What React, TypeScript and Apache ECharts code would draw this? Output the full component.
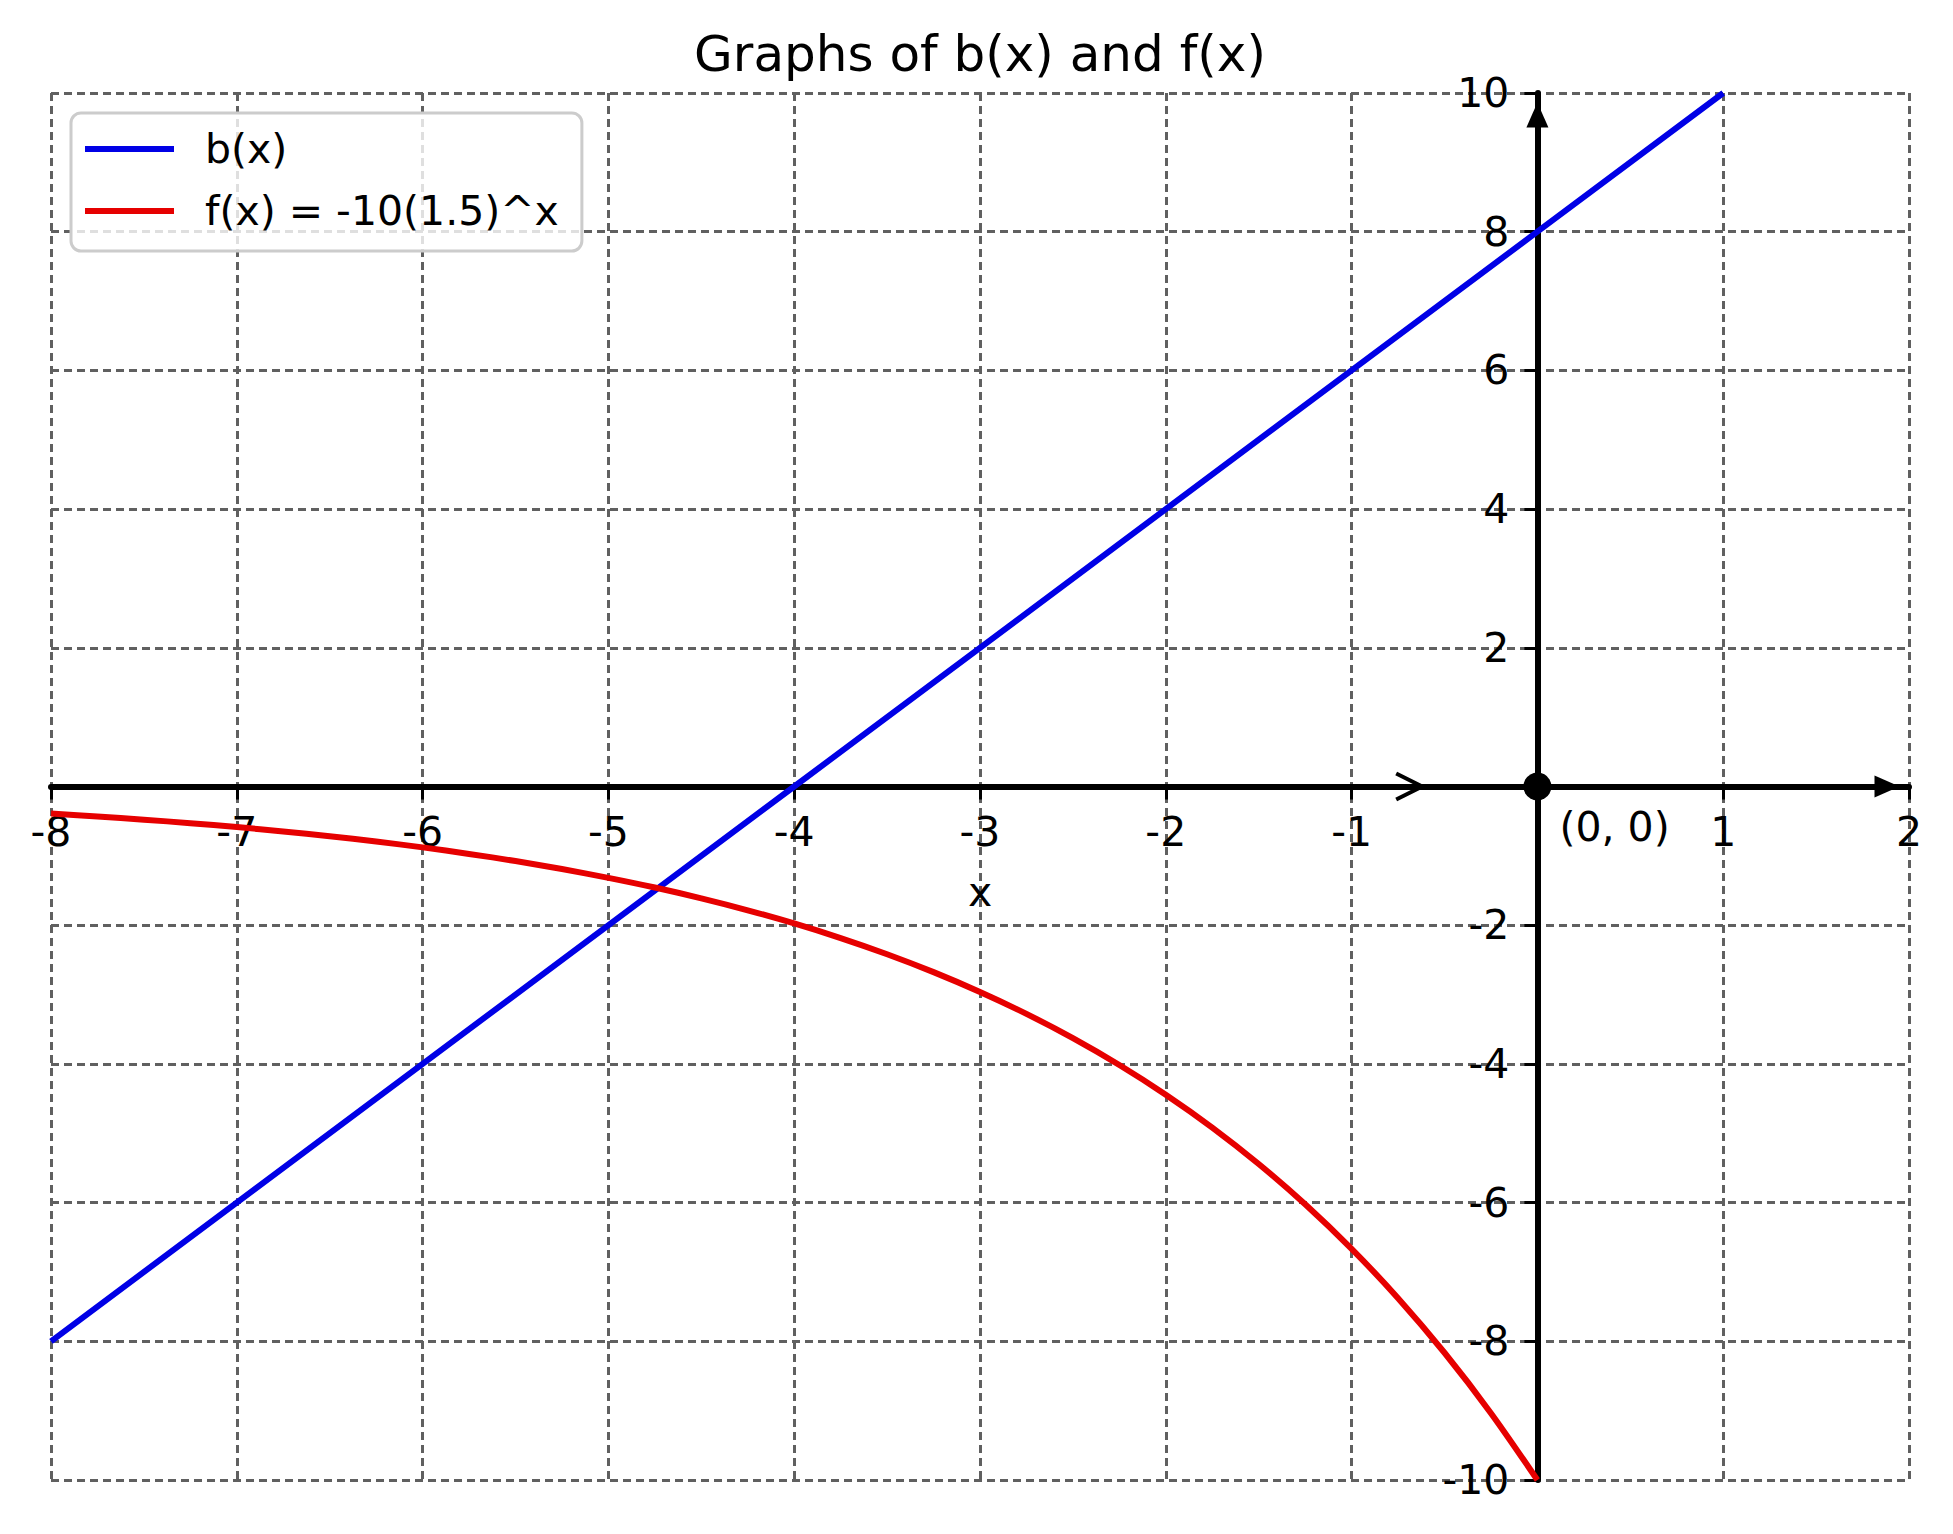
import React, { useEffect, useRef } from "react";
import * as echarts from "echarts";

// b(x): straight line
const bX = [-8, -4, 0, 1];
const bY = [-8, 0, 8, 10];

// f(x) = -10(1.5)^x
const fX = [
  -8, -7.75, -7.5, -7.25, -7, -6.75, -6.5, -6.25, -6, -5.75, -5.5, -5.25, -5, -4.75, -4.5, -4.25, -4,
  -3.75, -3.5, -3.25, -3, -2.75, -2.5, -2.25, -2, -1.75, -1.5, -1.25, -1, -0.75, -0.5, -0.25, 0,
];
const fY = [
  -0.39, -0.432, -0.478, -0.529, -0.585, -0.648, -0.717, -0.793, -0.878, -0.972, -1.075, -1.19, -1.317,
  -1.457, -1.613, -1.785, -1.975, -2.186, -2.419, -2.677, -2.963, -3.279, -3.629, -4.016, -4.444, -4.918,
  -5.443, -6.024, -6.667, -7.378, -8.165, -9.036, -10,
];

const xMin = -8;
const xMax = 2;
const xStep = 1;
const yMin = -10;
const yMax = 10;
const yStep = 2;

const originPoint = [0, 0];
const originLabel = "(0, 0)";
const chevronPoint = [-0.69, 0];

const titleText = "Graphs of b(x) and f(x)";
const xName = "x";
const bName = "b(x)";
const fName = "f(x) = -10(1.5)^x";

const FONT = "DejaVu Sans";

const W = 1953;
const H = 1534;
const GRID = { left: 51, top: 93, right: 44, bottom: 54 };

export default function App() {
  const ref = useRef<HTMLDivElement>(null);
  useEffect(() => {
    if (!ref.current) return;
    const chart = echarts.init(ref.current, null, { renderer: "svg" });
    const fmt = (v: number) => (v === 0 ? "" : String(v));
    const gridW = W - GRID.left - GRID.right;
    const gridH = H - GRID.top - GRID.bottom;
    // move axes to the zero lines (spines at zero)
    const xAxisOffset = -(gridH * (0 - yMin)) / (yMax - yMin);
    const yAxisOffset = -(gridW * (0 - xMin)) / (xMax - xMin);
    const gridCenterX = GRID.left + gridW / 2;
    chart.setOption({
      animation: false,
      backgroundColor: "#ffffff",
      textStyle: { fontFamily: FONT },
      title: {
        text: titleText,
        left: gridCenterX - 5,
        textAlign: "center",
        top: 24,
        textStyle: { fontFamily: FONT, fontSize: 50, fontWeight: "normal", color: "#000" },
      },
      legend: {
        data: [bName, fName],
        orient: "vertical",
        left: 71,
        top: 113,
        icon: "rect",
        itemWidth: 89,
        itemHeight: 6,
        itemGap: 14,
        padding: [12, 23, 16, 14],
        backgroundColor: "rgba(255,255,255,0.8)",
        borderColor: "#cccccc",
        borderWidth: 3,
        borderRadius: 10,
        textStyle: { fontFamily: FONT, fontSize: 41, color: "#000", lineHeight: 48, padding: [0, 0, 0, 26] },
      },
      grid: { ...GRID, containLabel: false, outerBoundsMode: "none" },
      xAxis: {
        type: "value",
        min: xMin,
        max: xMax,
        interval: xStep,
        position: "bottom",
        offset: xAxisOffset,
        name: xName,
        nameLocation: "middle",
        nameGap: 85,
        nameTextStyle: { fontFamily: FONT, fontSize: 41, color: "#000" },
        axisLine: {
          onZero: false,
          lineStyle: { color: "#000", width: 6 },
          symbol: ["none", "triangle"],
          symbolSize: [22, 25],
          symbolOffset: [0, -22],
        },
        axisTick: { show: true, length: 13, lineStyle: { color: "#000", width: 3 } },
        axisLabel: { formatter: fmt, fontFamily: FONT, fontSize: 41, color: "#000", margin: 25 },
        splitLine: { show: true, lineStyle: { color: "#606060", width: 3, type: [8, 5] } },
      },
      yAxis: {
        type: "value",
        min: yMin,
        max: yMax,
        interval: yStep,
        position: "left",
        offset: yAxisOffset,
        axisLine: {
          onZero: false,
          lineStyle: { color: "#000", width: 6 },
          symbol: ["none", "triangle"],
          symbolSize: [22, 25],
          symbolOffset: [0, -22],
        },
        axisTick: { show: true, length: 13, lineStyle: { color: "#000", width: 3 } },
        axisLabel: { formatter: fmt, fontFamily: FONT, fontSize: 41, color: "#000", margin: 28 },
        splitLine: { show: true, lineStyle: { color: "#606060", width: 3, type: [8, 5] } },
      },
      series: [
        {
          name: bName,
          type: "line",
          data: bX.map((x, i) => [x, bY[i]]),
          showSymbol: false,
          symbol: "none",
          lineStyle: { color: "#0000e6", width: 6 },
          itemStyle: { color: "#0000e6" },
          z: 3,
        },
        {
          name: fName,
          type: "line",
          data: fX.map((x, i) => [x, fY[i]]),
          smooth: 0.3,
          showSymbol: false,
          symbol: "none",
          lineStyle: { color: "#e60000", width: 6, join: "round" },
          itemStyle: { color: "#e60000" },
          z: 3,
        },
        {
          name: "origin",
          type: "scatter",
          data: [originPoint],
          symbol: "circle",
          symbolSize: 28,
          itemStyle: { color: "#000", opacity: 1 },
          label: {
            show: true,
            formatter: originLabel,
            position: [36, 54],
            align: "left",
            verticalAlign: "middle",
            fontFamily: FONT,
            fontSize: 41,
            color: "#000",
          },
          emphasis: { disabled: true },
          z: 5,
        },
        {
          name: "chevron",
          type: "scatter",
          data: [chevronPoint],
          symbol: "path://M0,0L20,10L0,20",
          symbolSize: [26, 26],
          itemStyle: { color: "none", borderColor: "#000", borderWidth: 4, opacity: 1 },
          emphasis: { disabled: true },
          z: 5,
        },
      ],
    });
    return () => chart.dispose();
  }, []);
  return (
    <div
      ref={ref}
      style={{ position: "fixed", left: 0, top: 0, width: W, height: H, background: "#fff" }}
    />
  );
}
